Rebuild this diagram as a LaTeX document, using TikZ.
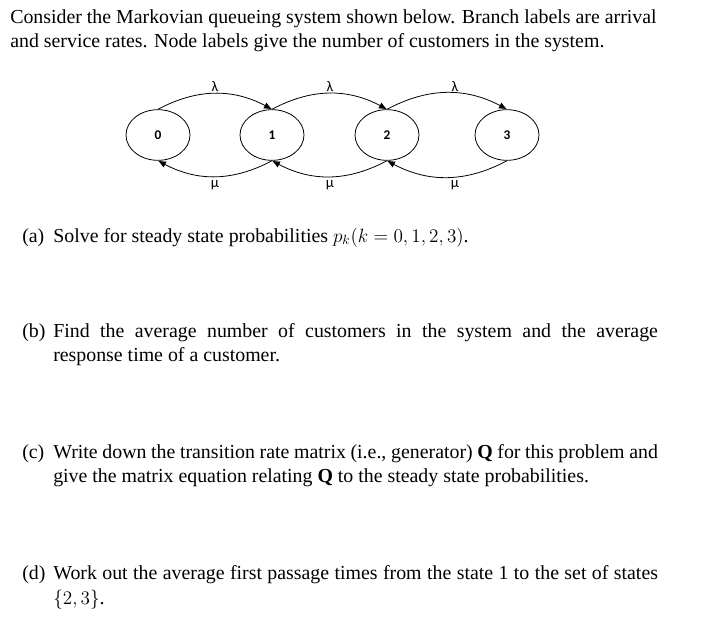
\documentclass[tikz,border=0pt]{standalone}
\usepackage{fontspec}
\setmainfont{Liberation Serif}
\newfontfamily\diagfont{Carlito}
\usetikzlibrary{shapes.geometric,arrows.meta}
\tikzset{
  st/.style={ellipse,draw,line width=0.6pt,minimum width=48pt,minimum height=38pt,inner sep=0pt,font=\diagfont\fontsize{10}{11}\selectfont\bfseries},
  arc/.style={line width=0.6pt,-{Latex[length=6pt,width=5pt]}},
  lab/.style={font=\diagfont\fontsize{11}{12}\selectfont},
  txt/.style={anchor=base west,inner sep=0pt,font=\fontsize{14.9}{17}\selectfont},
}
\newcommand{\itm}[1]{\makebox[23.3pt][l]{#1}}
\newcommand{\jline}[2]{\makebox[#1][s]{#2}}
\begin{document}
\begin{tikzpicture}[x=0.75pt,y=-0.75pt]
\useasboundingbox (0,0) rectangle (715,625);
\node[txt] (l1) at (10,23) {Consider the Markovian queueing system shown below. Branch labels are arrival};
\node[txt] (l2) at (10,47) {and service rates. Node labels give the number of customers in the system.};

\node[st] (e0) at (158,135) {0};
\node[st] (e1) at (272,135) {1};
\node[st] (e2) at (387,135) {2};
\node[st] (e3) at (507,135) {3};
\draw[arc] (e0.north) to[out=28,in=152] (e1.north);
\draw[arc] (e1.north) to[out=28,in=152] (e2.north);
\draw[arc] (e2.north) to[out=28,in=152] (e3.north);
\draw[arc] (e1.south) to[out=-152,in=-28] (e0.south);
\draw[arc] (e2.south) to[out=-152,in=-28] (e1.south);
\draw[arc] (e3.south) to[out=-152,in=-28] (e2.south);
\node[lab] (a1) at (215,87) {λ};
\node[lab] (a2) at (330,87) {λ};
\node[lab] (a3) at (455,87) {λ};
\node[lab] (m1) at (215,185) {μ};
\node[lab] (m2) at (330,185) {μ};
\node[lab] (m3) at (455,185) {μ};

\node[txt] (a) at (22,242) {\itm{(a)}Solve for steady state probabilities $p_k(k=0,1,2,3)$.};

\node[txt] (b1) at (22,337) {\itm{(b)}\jline{453.5pt}{Find the average number of customers in the system and the average}};
\node[txt] (b2) at (53,361) {response time of a customer.};

\node[txt] (c1) at (22,458) {\itm{(c)}\jline{453.5pt}{Write down the transition rate matrix (i.e., generator) \textbf{Q} for this problem and}};
\node[txt] (c2) at (53,482) {give the matrix equation relating \textbf{Q} to the steady state probabilities.};

\node[txt] (d1) at (22,579) {\itm{(d)}\jline{453.5pt}{Work out the average first passage times from the state 1 to the set of states}};
\node[txt] (d2) at (53,604) {$\{2,3\}$.};
\end{tikzpicture}
\end{document}
